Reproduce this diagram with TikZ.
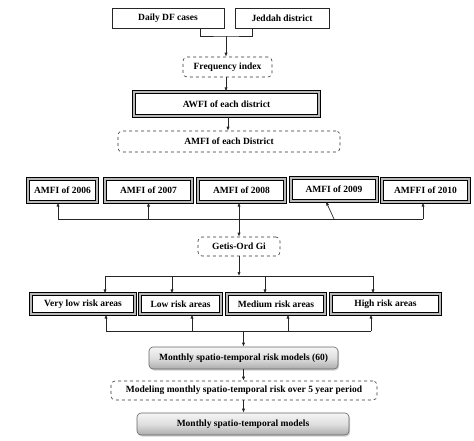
\documentclass[tikz,border=0pt]{standalone}
\usepackage{fontspec}
\setmainfont{Liberation Serif}
\usetikzlibrary{arrows.meta,shadows,calc}
\tikzset{
  base/.style={font=\fontsize{9.5}{11}\selectfont\bfseries, inner sep=1pt, align=center},
  plainbox/.style={base, draw=black!85, line width=0.8pt},
  dashbox/.style={base, draw=black!80, dashed, line width=0.6pt, rounded corners=4pt},
  dblbox/.style={base, draw=black, line width=1.1pt, double=gray!55, double distance=1.3pt},
  gradbox/.style={base, draw=black!60, line width=0.6pt, rounded corners=4pt,
     top color=gray!8, bottom color=gray!65, middle color=gray!25,
     drop shadow={opacity=0.35, shadow xshift=1.2pt, shadow yshift=-1.5pt}},
  conn/.style={draw=black!85, line width=0.7pt},
  arr/.style={conn, -{Latex[length=4pt,width=3.2pt]}},
  darr/.style={conn, {Latex[length=4pt,width=3.2pt]}-{Latex[length=4pt,width=3.2pt]}},
}
\begin{document}
\begin{tikzpicture}[x=1pt,y=-1pt]
\useasboundingbox (0,0) rectangle (474,440);
% top
\node[plainbox, minimum width=112, minimum height=20] (df) at (168,18) {Daily DF cases};
\node[plainbox, minimum width=94, minimum height=20] (jed) at (282,18) {Jeddah district};
\node[dashbox, minimum width=89, minimum height=20] (freq) at (227.5,67) {Frequency index};
\node[dblbox, minimum width=185, minimum height=24] (awfi) at (226.5,104) {AWFI of each district};
\node[dashbox, minimum width=222, minimum height=21] (amfi) at (229,141.5) {AMFI of each District};
% years
\node[dblbox, minimum width=69, minimum height=23] (y06) at (62.5,190.5) {AMFI of 2006};
\node[dblbox, minimum width=87, minimum height=23] (y07) at (148.5,190.5) {AMFI of 2007};
\node[dblbox, minimum width=87, minimum height=23] (y08) at (241.5,190.5) {AMFI of 2008};
\node[dblbox, minimum width=86, minimum height=23] (y09) at (334,189.5) {AMFI of 2009};
\node[dblbox, minimum width=87, minimum height=23] (y10) at (425.5,190.5) {AMFFI of 2010};
\node[dashbox, minimum width=82, minimum height=19] (getis) at (239,246.5) {Getis-Ord Gi};
% risk
\node[dblbox, minimum width=104, minimum height=20] (vl) at (83,304) {Very low risk areas};
\node[dblbox, minimum width=81, minimum height=20] (lo) at (180.5,304) {Low risk areas};
\node[dblbox, minimum width=98, minimum height=20] (me) at (276,304) {Medium risk areas};
\node[dblbox, minimum width=109, minimum height=20] (hi) at (385.5,304) {High risk areas};
% models
\node[gradbox, minimum width=189, minimum height=22] (mon1) at (243.5,358) {Monthly spatio-temporal risk models (60)};
\node[dashbox, minimum width=266, minimum height=19] (model) at (244,390.5) {Modeling monthly spatio-temporal risk over 5 year period};
\node[gradbox, minimum width=212, minimum height=22] (mon2) at (243,424) {Monthly spatio-temporal models};
% connectors top
\coordinate (j1) at (226,36);
\draw[conn] ([xshift=32pt]df.south) |- (j1) -| ([xshift=-30pt]jed.south);
\draw[arr] (j1) -- (j1 |- freq.north);
\draw[arr] (freq.south -| j1) -- (awfi.north -| j1);
\draw[arr] ([xshift=1.5pt]awfi.south) -- ([xshift=1.5pt]awfi.south |- amfi.north);
% year bus
\coordinate (bus1) at (0,219);
\draw[conn] ([xshift=-4.5pt]y06.south |- bus1) -- ([xshift=-2.5pt]y10.south |- bus1);
\draw[arr] ([xshift=-4.5pt]y06.south |- bus1) -- ([xshift=-4.5pt]y06.south);
\draw[arr] (y07.south |- bus1) -- (y07.south);
\draw[arr] (y09.south |- bus1) -- ([xshift=-8pt]y09.south);
\draw[arr] ([xshift=-2.5pt]y10.south |- bus1) -- ([xshift=-2.5pt]y10.south);
\draw[darr] (getis.north) -- (getis.north |- y08.south);
% risk bus top
\coordinate (bus2) at (0,276);
\draw[arr] (getis.south) -- (getis.south |- bus2);
\draw[conn] ([xshift=22pt]vl.north |- bus2) -- ([xshift=-12.5pt]hi.north |- bus2);
\draw[arr] ([xshift=22pt]vl.north |- bus2) -- ([xshift=22pt]vl.north);
\draw[arr] ([xshift=-8.5pt]lo.north |- bus2) -- ([xshift=-8.5pt]lo.north);
\draw[arr] ([xshift=-11pt]me.north |- bus2) -- ([xshift=-11pt]me.north);
\draw[arr] ([xshift=-12.5pt]hi.north |- bus2) -- ([xshift=-12.5pt]hi.north);
% risk bus bottom
\coordinate (bus3) at (0,331);
\draw[conn] ([xshift=23pt]vl.south |- bus3) -- ([xshift=-14.5pt]hi.south |- bus3);
\draw[arr] ([xshift=23pt]vl.south |- bus3) -- ([xshift=23pt]vl.south);
\draw[arr] ([xshift=11.5pt]lo.south |- bus3) -- ([xshift=11.5pt]lo.south);
\draw[arr] ([xshift=12pt]me.south |- bus3) -- ([xshift=12pt]me.south);
\draw[arr] ([xshift=-14.5pt]hi.south |- bus3) -- ([xshift=-14.5pt]hi.south);
\draw[arr] (mon1.north |- bus3) -- (mon1.north);
\draw[arr] (mon1.south) -- (mon1.south |- model.north);
\draw[arr] (mon1.south |- model.south) -- (mon1.south |- mon2.north);
\end{tikzpicture}
\end{document}
